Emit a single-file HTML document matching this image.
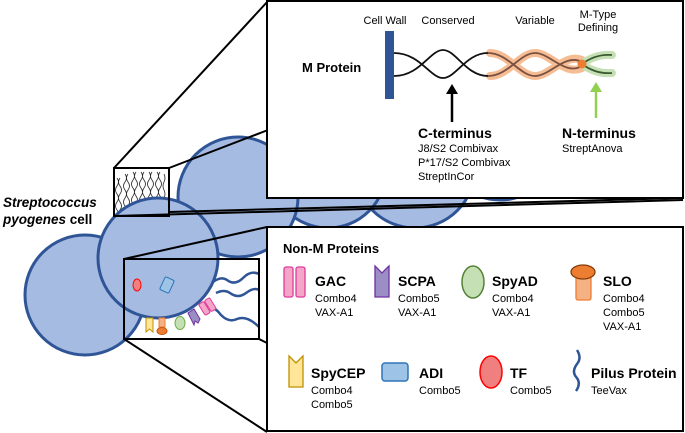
<!DOCTYPE html>
<html><head><meta charset="utf-8"><style>
html,body{margin:0;padding:0;background:#fff;}
svg{display:block;font-family:"Liberation Sans",Arial,sans-serif;}
</style></head><body>
<svg width="685" height="433" viewBox="0 0 685 433" xmlns="http://www.w3.org/2000/svg">
<defs>
<clipPath id="hb"><rect x="114" y="168" width="55" height="48"/></clipPath>
</defs>
<rect x="114" y="168" width="55" height="48" fill="#fff"/>
<g clip-path="url(#hb)" stroke="#222" stroke-width="0.8" fill="none">
<path d="M117 178 q3 4 0 8 q-3 4 0 8 q3 4 0 8 q-3 4 0 8 q3 4 0 8 M120 178 q-3 4 0 8 q3 4 0 8 q-3 4 0 8 q3 4 0 8 q-3 4 0 8"/>
<path d="M125 174 q3 4 0 8 q-3 4 0 8 q3 4 0 8 q-3 4 0 8 q3 4 0 8 M128 174 q-3 4 0 8 q3 4 0 8 q-3 4 0 8 q3 4 0 8 q-3 4 0 8"/>
<path d="M133 172 q3 4 0 8 q-3 4 0 8 q3 4 0 8 q-3 4 0 8 q3 4 0 8 M136 172 q-3 4 0 8 q3 4 0 8 q-3 4 0 8 q3 4 0 8 q-3 4 0 8"/>
<path d="M141 172 q3 4 0 8 q-3 4 0 8 q3 4 0 8 q-3 4 0 8 q3 4 0 8 M144 172 q-3 4 0 8 q3 4 0 8 q-3 4 0 8 q3 4 0 8 q-3 4 0 8"/>
<path d="M149 172 q3 4 0 8 q-3 4 0 8 q3 4 0 8 q-3 4 0 8 q3 4 0 8 M152 172 q-3 4 0 8 q3 4 0 8 q-3 4 0 8 q3 4 0 8 q-3 4 0 8"/>
<path d="M157 172 q3 4 0 8 q-3 4 0 8 q3 4 0 8 q-3 4 0 8 q3 4 0 8 M160 172 q-3 4 0 8 q3 4 0 8 q-3 4 0 8 q3 4 0 8 q-3 4 0 8"/>
<path d="M164 174 q2 4 0 8 q-2 4 0 8 q2 4 0 8 q-2 4 0 8"/>
</g>
<rect x="124" y="259" width="135" height="80" fill="#fff"/>
<g fill="#a5bbe2" stroke="#2f5597" stroke-width="3">
<circle cx="500" cy="140" r="60"/>
<circle cx="415" cy="168" r="60"/>
<circle cx="328" cy="170" r="58"/>
<circle cx="238" cy="197" r="60"/>
<circle cx="85" cy="295" r="60"/>
<circle cx="158" cy="258" r="60"/>
</g>
<g stroke="#2f5597" stroke-width="2.5" fill="none">
<path d="M213 282 q8 -6 14 -2 q8 6 16 -2 q8 -8 16 -4"/>
<path d="M216 293 q8 -4 14 0 q8 6 16 0 q8 -6 13 -3"/>
<path d="M207 305 q8 2 14 10 q8 8 16 4 q10 -4 22 8"/>
</g>
<ellipse cx="137" cy="285" rx="4" ry="6" fill="#f08080" stroke="#ff0000" stroke-width="1"/>
<rect x="162" y="278" width="10" height="14" rx="1.5" fill="#9dc3e6" stroke="#2e75b6" stroke-width="1" transform="rotate(25 167 285)"/>
<path d="M146 318 h7 v14 l-3.5 -3 l-3.5 3 z" fill="#ffe699" stroke="#bf9000" stroke-width="1"/>
<rect x="159" y="318" width="6" height="9" fill="#f4b183" stroke="#ed7d31" stroke-width="1"/>
<ellipse cx="162" cy="331" rx="5" ry="3.5" fill="#ed7d31" stroke="#c55a11" stroke-width="1"/>
<ellipse cx="180" cy="323" rx="5" ry="6.5" fill="#c5e0b4" stroke="#70ad47" stroke-width="1"/>
<path d="M188 313 l6 -4 l6 10 l-2 4 l-3 -2 l-1 4 z" fill="#9b8ec4" stroke="#7030a0" stroke-width="1"/>
<g transform="rotate(-32 207 305)"><rect x="200" y="300" width="6" height="13" rx="1.5" fill="#f4a6c8" stroke="#e0399a" stroke-width="1"/><rect x="207" y="300" width="6" height="13" rx="1.5" fill="#f4a6c8" stroke="#e0399a" stroke-width="1"/></g>
<g stroke="#000" stroke-width="2" fill="none">
<rect x="114" y="168" width="55" height="48"/>
<rect x="124" y="259" width="135" height="80"/>
<line x1="114" y1="168" x2="268" y2="1"/>
<line x1="169" y1="168" x2="268" y2="130"/>
<line x1="114" y1="216" x2="683" y2="200"/>
<line x1="169" y1="212" x2="683" y2="198"/>
<line x1="124" y1="259" x2="267" y2="227"/>
<line x1="124" y1="339" x2="267" y2="432"/>
<line x1="259" y1="339" x2="267" y2="343"/>
</g>
<text x="3" y="207" font-size="13.5" font-weight="bold" font-style="italic">Streptococcus</text>
<text x="3" y="224" font-size="13.5" font-weight="bold"><tspan font-style="italic">pyogenes</tspan> cell</text>

<rect x="267" y="1" width="416" height="197" fill="#fff" stroke="#000" stroke-width="2"/>
<g font-size="11" text-anchor="middle">
<text x="385" y="24">Cell Wall</text>
<text x="448" y="24">Conserved</text>
<text x="535" y="24">Variable</text>
<text x="598" y="18">M-Type</text>
<text x="598" y="31">Defining</text>
</g>
<text x="302" y="72" font-size="13" font-weight="bold">M Protein</text>
<rect x="385" y="31" width="9" height="68" fill="#2f5597"/>
<g fill="none" stroke-linecap="round">
<path d="M490 53 C508 53 520 76 535 76 C550 76 565 53 582 60 M490 76 C508 76 520 53 535 53 C550 53 565 76 582 68" stroke="#f4b183" stroke-width="8" opacity="0.85"/>
<path d="M582 64 C590 58 600 54 612 55 M582 64 C590 70 600 74 612 73" stroke="#c5e0b4" stroke-width="8"/>
</g>
<g fill="none" stroke-width="1.8">
<path d="M394 53 C420 53 430 78 443 78 C456 78 466 53 488 53 M394 76 C420 76 430 50 443 50 C456 50 466 76 488 76" stroke="#111"/>
<path d="M488 53 C508 53 520 76 535 76 C550 76 565 53 582 62 M488 76 C508 76 520 53 535 53 C550 53 565 76 582 66" stroke="#7a5040"/>
<path d="M582 64 C590 58 600 54 612 55 M582 64 C590 70 600 74 612 73" stroke="#3a5a30"/>
</g>
<circle cx="582" cy="64" r="4.5" fill="#ed7d31"/>
<line x1="452" y1="122" x2="452" y2="92" stroke="#000" stroke-width="2.5"/>
<path d="M446 94 L452 84 L458 94 Z" fill="#000"/>
<line x1="596" y1="118" x2="596" y2="90" stroke="#92d050" stroke-width="2.5"/>
<path d="M590 92 L596 82 L602 92 Z" fill="#92d050"/>
<text x="418" y="138" font-size="14" font-weight="bold">C-terminus</text>
<g font-size="11"><text x="418" y="152">J8/S2 Combivax</text><text x="418" y="166">P*17/S2 Combivax</text><text x="418" y="180">StreptInCor</text></g>
<text x="562" y="138" font-size="14" font-weight="bold">N-terminus</text>
<text x="562" y="152" font-size="11">StreptAnova</text>

<rect x="267" y="227" width="416" height="204" fill="#fff" stroke="#000" stroke-width="2"/>
<text x="283" y="253" font-size="13" font-weight="bold">Non-M Proteins</text>
<rect x="284" y="267" width="9" height="30" rx="2" fill="#f4a6c8" stroke="#e0399a" stroke-width="1.3"/>
<rect x="296" y="267" width="9" height="30" rx="2" fill="#f4a6c8" stroke="#e0399a" stroke-width="1.3"/>
<path d="M375 266 L382 273 L389 266 V297 H375 Z" fill="#9b8ec4" stroke="#7030a0" stroke-width="1.3"/>
<ellipse cx="473" cy="282" rx="11" ry="16" fill="#c5e0b4" stroke="#548235" stroke-width="1.5"/>
<rect x="576" y="274" width="15" height="26" rx="2" fill="#f4b183" stroke="#ed7d31" stroke-width="1.3"/>
<ellipse cx="583" cy="272" rx="12" ry="7" fill="#ed7d31" stroke="#843c0c" stroke-width="1.3"/>
<path d="M289 356 L296 363 L303 356 V387 H289 Z" fill="#ffe699" stroke="#bf9000" stroke-width="1.3"/>
<rect x="382" y="363" width="26" height="18" rx="3" fill="#9dc3e6" stroke="#2e75b6" stroke-width="1.5"/>
<ellipse cx="491" cy="372" rx="11" ry="16" fill="#f08080" stroke="#ff0000" stroke-width="1.5"/>
<path d="M577 350 q5 8 0 14 q-6 8 0 14 q4 6 -1 13" fill="none" stroke="#2f5597" stroke-width="2.5"/>
<g font-size="14" font-weight="bold">
<text x="315" y="286">GAC</text><text x="398" y="286">SCPA</text><text x="492" y="286">SpyAD</text><text x="603" y="286">SLO</text>
<text x="311" y="378">SpyCEP</text><text x="419" y="378">ADI</text><text x="510" y="378">TF</text><text x="591" y="378">Pilus Protein</text>
</g>
<g font-size="11">
<text x="315" y="302">Combo4</text><text x="315" y="316">VAX-A1</text>
<text x="398" y="302">Combo5</text><text x="398" y="316">VAX-A1</text>
<text x="492" y="302">Combo4</text><text x="492" y="316">VAX-A1</text>
<text x="603" y="302">Combo4</text><text x="603" y="316">Combo5</text><text x="603" y="330">VAX-A1</text>
<text x="311" y="394">Combo4</text><text x="311" y="408">Combo5</text>
<text x="419" y="394">Combo5</text>
<text x="510" y="394">Combo5</text>
<text x="591" y="394">TeeVax</text>
</g>
</svg>
</body></html>
